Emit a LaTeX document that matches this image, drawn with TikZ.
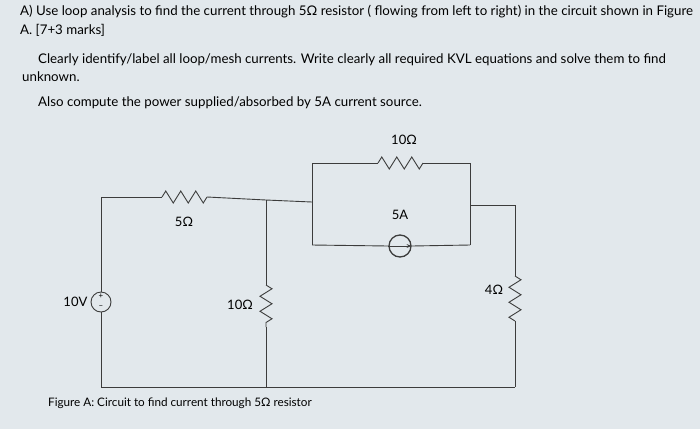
\documentclass[tikz,border=0pt]{standalone}
\usepackage{fontspec}
\setmainfont{Lato}
\usetikzlibrary{positioning, decorations.pathmorphing, arrows.meta}
\definecolor{screenbg}{RGB}{226, 232, 236}
\definecolor{wirecol}{RGB}{60, 60, 60}

\tikzset{
  wire/.style={draw=wirecol, line width=0.9pt},
  resistor/.style={wire, decorate, decoration={zigzag, segment length=15pt, amplitude=6pt}},
  qtext/.style={anchor=west, inner sep=0pt, font=\fontsize{13.3}{15}\selectfont},
  lbl/.style={inner sep=0pt, font=\fontsize{13}{15}\selectfont}
}

\begin{document}
\begin{tikzpicture}[x=1pt, y=-1pt]
\useasboundingbox (0,0) rectangle (700,429);
\fill[screenbg] (0,0) rectangle (700,429);

% Question text
\node[qtext] (q1) at (20,12) {A) Use loop analysis to find the current through 5Ω resistor ( flowing from left to right) in the circuit shown in Figure};
\node[qtext] (q2) at (20,30) {A. [7+3 marks]};
\node[qtext] (q3) at (38,60) {Clearly identify/label all loop/mesh currents. Write clearly all required KVL equations and solve them to find};
\node[qtext] (q4) at (22,77) {unknown.};
\node[qtext] (q5) at (38,103) {Also compute the power supplied/absorbed by 5A current source.};

% Circuit corners
\coordinate (mt) at (266,200);
\coordinate (mb) at (266,387);
\coordinate (bxl) at (312,202);
\coordinate (bxtl) at (312,163);
\coordinate (bxtr) at (470,163);
\coordinate (bxbl) at (312,245);
\coordinate (bxbr) at (470,245);
\coordinate (bxr) at (470,205);
\coordinate (rt) at (515,205);
\coordinate (rb) at (515,387);

% 10 V source
\node[draw=wirecol, line width=0.9pt, circle, minimum size=20pt, inner sep=0pt] (vs) at (101,302) {};
\node[font=\fontsize{8}{8}\selectfont, inner sep=0pt] (vplus) at (101,296) {+};
\node[font=\fontsize{8}{8}\selectfont, inner sep=0pt] (vminus) at (101,307) {--};
\node[lbl, left=3pt of vs] (vlbl) {10V};

% 5 ohm
\coordinate (r5a) at (162,197);
\coordinate (r5b) at (207,197);
\draw[wire] (vs.north) |- (r5a);
\draw[resistor] (r5a) -- (r5b);
\draw[wire] (r5b) -- (mt) -- (bxl);
\node[lbl] (l5) at (184,222) {5Ω};

% 10 ohm vertical
\coordinate (r10a) at (266,285);
\coordinate (r10b) at (266,327);
\draw[wire] (mt) -- (r10a);
\draw[resistor] (r10a) -- (r10b);
\draw[wire] (r10b) -- (mb);
\node[lbl] (l10v) at (240,305) {10Ω};

% bottom
\draw[wire] (vs.south) |- (mb) -- (rb);

% box with 10 ohm and 5 A
\coordinate (r10ta) at (378,163);
\coordinate (r10tb) at (423,163);
\draw[wire] (bxbl) -- (bxtl) -- (r10ta);
\draw[resistor] (r10ta) -- (r10tb);
\draw[wire] (r10tb) -- (bxtr) -- (bxbr);
\node[lbl] (l10t) at (404,140) {10Ω};
\node[draw=wirecol, line width=1.3pt, circle, minimum size=22pt, inner sep=0pt] (cs) at (400,246) {};
\draw[wire] (bxbl) -- (cs.west);
\draw[wire] (cs.east) -- (bxbr);
\draw[wire, -{Stealth[length=5pt]}] (cs.west) -- (cs.east);
\node[lbl] (l5a) at (400,215) {5A};

% right branch with 4 ohm
\coordinate (r4a) at (515,276);
\coordinate (r4b) at (515,321);
\draw[wire] (bxr) -- (rt) -- (r4a);
\draw[resistor] (r4a) -- (r4b);
\draw[wire] (r4b) -- (rb);
\node[lbl] (l4) at (494,290) {4Ω};

% caption
\node[anchor=west, inner sep=0pt, font=\fontsize{11.7}{13}\selectfont] (cap) at (48,403) {Figure A: Circuit to find current through 5Ω resistor};
\end{tikzpicture}
\end{document}
